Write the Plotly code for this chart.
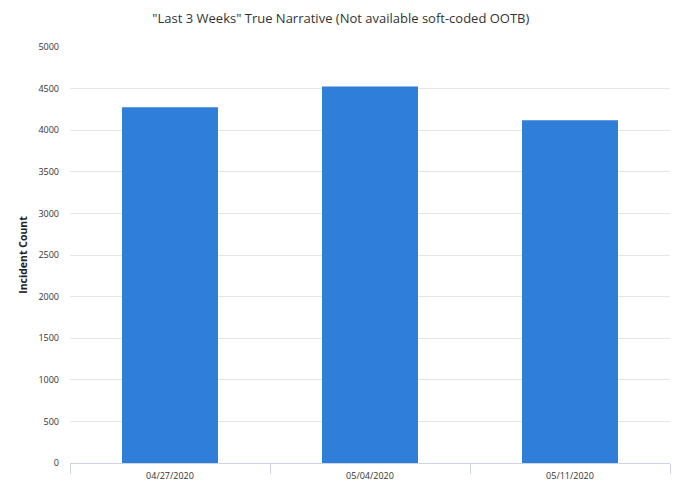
import plotly.graph_objects as go

categories = ["04/27/2020", "05/04/2020", "05/11/2020"]
incident_counts = [4275, 4525, 4120]
y_ticks = [0, 500, 1000, 1500, 2000, 2500, 3000, 3500, 4000, 4500, 5000]

FONT = "Open Sans"

fig = go.Figure(
    go.Bar(
        x=categories,
        y=incident_counts,
        marker=dict(color="#2F7ED8", line=dict(width=0)),
        width=0.48,
    )
)

fig.update_layout(
    width=692,
    height=491,
    paper_bgcolor="white",
    plot_bgcolor="white",
    margin=dict(l=62, r=30, t=39, b=36),
    showlegend=False,
    font=dict(family=FONT, color="#333333"),
    title=dict(
        text='"Last 3 Weeks" True Narrative (Not available soft-coded OOTB)',
        x=0.481,
        xanchor="center",
        y=0.978,
        yanchor="middle",
        font=dict(family=FONT, size=13, color="#333333"),
    ),
)

fig.update_xaxes(
    type="category",
    automargin=False,
    showgrid=False,
    showline=True,
    linecolor="#ccd6eb",
    linewidth=1,
    ticks="outside",
    tickson="boundaries",
    ticklen=10,
    tickcolor="#ccd6eb",
    ticklabelstandoff=4,
    tickfont=dict(family=FONT, size=9, color="#333333"),
)

fig.update_yaxes(
    range=[0, 5000],
    automargin=False,
    tickvals=y_ticks,
    showgrid=True,
    gridcolor="#e6e6e6",
    gridwidth=1,
    zeroline=False,
    showline=False,
    ticks="",
    ticklabelstandoff=10,
    tickfont=dict(family=FONT, size=9, color="#333333"),
    title=dict(text="<b>Incident Count</b>", font=dict(family=FONT, size=10.5, color="#222222"), standoff=8),
)

fig.write_html("out.html")
